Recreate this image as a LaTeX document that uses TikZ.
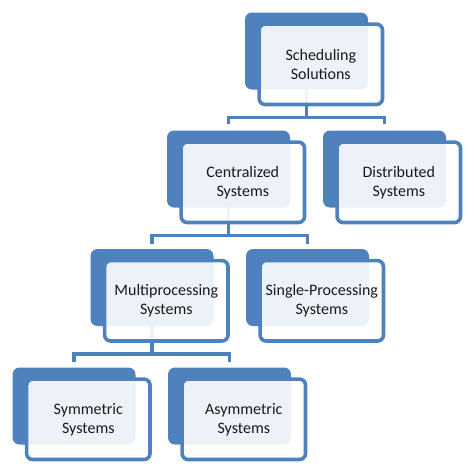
\documentclass[tikz,border=0pt]{standalone}
\usepackage{fontspec}
\setmainfont{Carlito}
\usetikzlibrary{positioning}
\definecolor{boxblue}{RGB}{79,129,189}
\definecolor{boxtext}{RGB}{26,26,26}

\begin{document}
\begin{tikzpicture}[x=1pt,y=-1pt,
  back box/.style={rectangle,rounded corners=7pt,fill=boxblue,inner sep=0pt,
    minimum width=123pt,minimum height=77pt},
  front box/.style={rectangle,rounded corners=6pt,draw=boxblue,line width=3.6pt,
    fill=white,fill opacity=0.9,text opacity=1,text=boxtext,anchor=north west,
    minimum width=123.4pt,minimum height=80.4pt,align=center,
    font=\fontsize{16}{19}\selectfont},
  link/.style={draw=boxblue,line width=3.3pt}]

  \useasboundingbox (0,0) rectangle (474,475);

  % back plates
  \node[back box] (1b) at (306.5,51) {};
  \node[back box] (2b) at (228.5,169) {};
  \node[back box] (3b) at (384.5,169) {};
  \node[back box] (4b) at (152,287.5) {};
  \node[back box] (5b) at (307.5,287.5) {};
  \node[back box] (6b) at (74,406) {};
  \node[back box] (7b) at (229.5,406) {};

  % joints of the tree
  \path (1b.center) ++(0,66.5) coordinate (1j);
  \path (2b.center) ++(0,66.5) coordinate (2j);
  \path (4b.center) ++(0,66.5) coordinate (4j);

  \draw[link] (1b.center) -- (1j) -| ([yshift=6pt]2b.north)
    (1j) -| ([yshift=6pt]3b.north);
  \draw[link] (2b.center) -- (2j) -| ([yshift=5pt]4b.north)
    (2j) -| ([yshift=5pt]5b.north);
  \draw[link] (4b.center) -- (4j) -| ([yshift=5pt]6b.north)
    (4j) -| ([yshift=5pt]7b.north);

  % front cards
  \node[front box] (1) at ([xshift=12.5pt,yshift=-10pt]1b.north west) {Scheduling\\Solutions};
  \node[front box] (2) at ([xshift=12.5pt,yshift=-10pt]2b.north west) {Centralized\\Systems};
  \node[front box] (3) at ([xshift=12.5pt,yshift=-10pt]3b.north west) {Distributed\\Systems};
  \node[front box] (4) at ([xshift=12.5pt,yshift=-10pt]4b.north west) {Multiprocessing\\Systems};
  \node[front box] (5) at ([xshift=12.5pt,yshift=-10pt]5b.north west) {Single-Processing\\Systems};
  \node[front box] (6) at ([xshift=12.5pt,yshift=-10pt]6b.north west) {Symmetric\\Systems};
  \node[front box] (7) at ([xshift=12.5pt,yshift=-10pt]7b.north west) {Asymmetric\\Systems};

\end{tikzpicture}
\end{document}
